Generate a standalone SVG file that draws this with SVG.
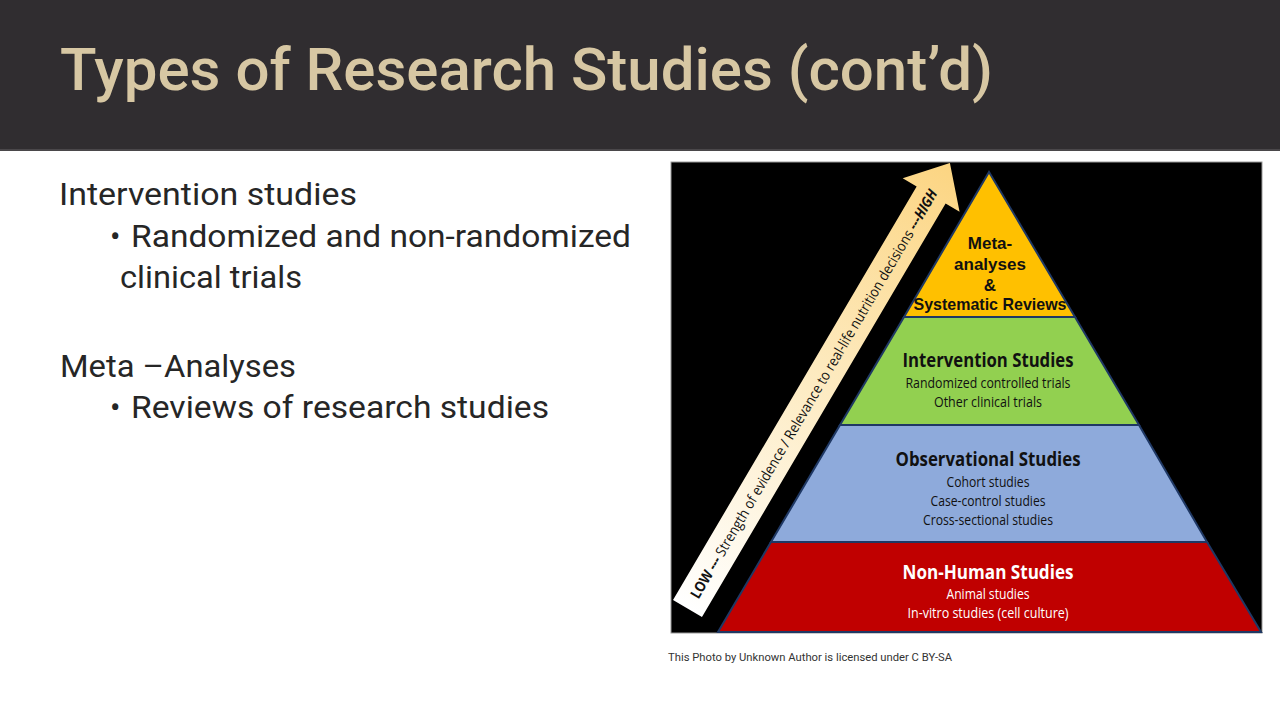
<svg xmlns="http://www.w3.org/2000/svg" width="1280" height="720" viewBox="0 0 1280 720">
<defs>
<style>
.title{font-family:Roboto,"Liberation Sans",sans-serif;font-weight:500;font-size:60px;fill:#d7c7a3}
.body{font-family:Roboto,"Liberation Sans",sans-serif;font-weight:400;font-size:31px;fill:#262626}
.hd{font-family:"Open Sans","Liberation Sans",sans-serif;font-weight:700;text-anchor:middle}
.sub{font-family:"Open Sans","Liberation Sans",sans-serif;font-size:14px;text-anchor:middle;fill:#111}
.meta{font-family:"Liberation Sans",Arial,sans-serif;font-weight:700;font-size:17px;text-anchor:middle;fill:#111}
.arrowtxt{font-family:"Open Sans","Liberation Sans",sans-serif;font-size:14.5px;fill:#111}
.tier{stroke:#1f3864;stroke-width:2}
</style>
<linearGradient id="ag" x1="0" y1="0" x2="1" y2="0">
<stop offset="0" stop-color="#ffffff"/>
<stop offset="0.5" stop-color="#fdebc2"/>
<stop offset="1" stop-color="#fcd582"/>
</linearGradient>
</defs>
<rect width="1280" height="720" fill="#ffffff"/>
<g id="header">
<rect x="0" y="0" width="1280" height="150" fill="#302d30"/>
<rect x="0" y="149" width="1280" height="2" fill="#4a474a"/>
<text class="title" x="60" y="90" textLength="933" lengthAdjust="spacingAndGlyphs">Types of Research Studies (cont’d)</text>
</g>
<g id="body-text">
<text class="body" x="59" y="205" textLength="298" lengthAdjust="spacingAndGlyphs">Intervention studies</text>
<text class="body" x="110" y="247">•</text>
<text class="body" x="131" y="247" textLength="500" lengthAdjust="spacingAndGlyphs">Randomized and non-randomized</text>
<text class="body" x="120" y="288" textLength="182" lengthAdjust="spacingAndGlyphs">clinical trials</text>
<text class="body" x="60" y="377" textLength="236" lengthAdjust="spacingAndGlyphs">Meta –Analyses</text>
<text class="body" x="110" y="418">•</text>
<text class="body" x="131" y="418" textLength="418" lengthAdjust="spacingAndGlyphs">Reviews of research studies</text>
</g>
<g id="picture">
<rect x="671" y="162" width="591" height="471" fill="#000000" stroke="#9a9a9a" stroke-width="1"/>
<g id="tier-meta">
<polygon class="tier" points="989,172 904,317 1075,317" fill="#ffc000"/>
<text class="meta" x="990" y="249">Meta-</text>
<text class="meta" x="990" y="270">analyses</text>
<text class="meta" x="990" y="291">&amp;</text>
<text class="meta" x="990" y="310" textLength="153" lengthAdjust="spacingAndGlyphs">Systematic Reviews</text>
</g>
<g id="tier-intervention">
<polygon class="tier" points="904,317 1075,317 1139,425 840,425" fill="#92d050"/>
<text class="hd" x="988" y="367" font-size="20" fill="#111" textLength="171" lengthAdjust="spacingAndGlyphs">Intervention Studies</text>
<text class="sub" x="988" y="388" textLength="165" lengthAdjust="spacingAndGlyphs">Randomized controlled trials</text>
<text class="sub" x="988" y="407" textLength="108" lengthAdjust="spacingAndGlyphs">Other clinical trials</text>
</g>
<g id="tier-observational">
<polygon class="tier" points="840,425 1139,425 1207,542 771,542" fill="#8eaadb"/>
<text class="hd" x="988" y="466" font-size="20" fill="#111" textLength="185" lengthAdjust="spacingAndGlyphs">Observational Studies</text>
<text class="sub" x="988" y="487" textLength="83" lengthAdjust="spacingAndGlyphs">Cohort studies</text>
<text class="sub" x="988" y="506" textLength="115" lengthAdjust="spacingAndGlyphs">Case-control studies</text>
<text class="sub" x="988" y="525" textLength="130" lengthAdjust="spacingAndGlyphs">Cross-sectional studies</text>
</g>
<g id="tier-nonhuman">
<polygon class="tier" points="771,542 1207,542 1261,632 718,632" fill="#c00000"/>
<text class="hd" x="988" y="579" font-size="20" fill="#ffffff" textLength="171" lengthAdjust="spacingAndGlyphs">Non-Human Studies</text>
<text class="sub" x="988" y="599" style="fill:#fff" textLength="83" lengthAdjust="spacingAndGlyphs">Animal studies</text>
<text class="sub" x="988" y="618" style="fill:#fff" textLength="161" lengthAdjust="spacingAndGlyphs">In-vitro studies (cell culture)</text>
</g>
<g id="evidence-arrow" transform="translate(687.5,608.5) rotate(-59.5)">
<polygon points="0,-16.8 480,-16.8 480,-33 517,0 480,33 480,16.8 0,16.8" fill="url(#ag)"/>
<text class="arrowtxt" x="13" y="5" textLength="472" lengthAdjust="spacingAndGlyphs"><tspan font-weight="700">LOW ---</tspan> Strength of evidence / Relevance to real-life nutrition decisions <tspan font-weight="700" font-style="italic">---HIGH</tspan></text>
</g>
</g>
<text x="668" y="661" font-family="Roboto,'Liberation Sans',sans-serif" font-size="10" fill="#333" textLength="284" lengthAdjust="spacingAndGlyphs">This Photo by Unknown Author is licensed under C BY-SA</text>
</svg>
